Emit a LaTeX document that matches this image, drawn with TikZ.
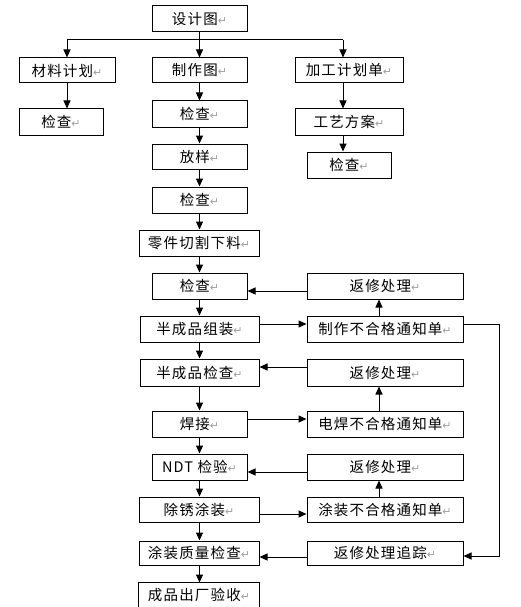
\documentclass[tikz,border=0pt]{standalone}
\usepackage{fontspec}
\usetikzlibrary{arrows.meta}
\newfontfamily\cjk[LetterSpace=8]{Noto Sans CJK SC}
\newfontfamily\symf{DejaVu Sans}
\definecolor{retgray}{HTML}{A0A0A0}
\newcommand{\retmark}{{\symf\fontsize{11}{12}\selectfont\color{retgray}↵}}
\tikzset{
  box/.style={draw=black, line width=1pt, rectangle, inner sep=0pt, fill=white,
    font=\cjk\fontsize{14.5}{15}\selectfont},
  arr/.style={line width=1pt, -{Triangle[length=8pt,width=7pt]}},
  ln/.style={line width=1pt}
}
\begin{document}
\begin{tikzpicture}[x=1pt,y=-1pt]
\useasboundingbox (0,0) rectangle (520,607);
\clip (0,0) rectangle (520,607);
\fill[white] (0,0) rectangle (520,607);
% named columns
\coordinate (colL) at (67,0);
\coordinate (colM) at (199.5,0);
\coordinate (colR) at (343,0);
\coordinate (colU) at (379,0);
\coordinate (colE) at (499,0);
\coordinate (split) at (199.5,40);
% nodes
\node[box, minimum width=95pt, minimum height=26pt] (sj) at (199.5,19) {设计图\retmark};
\node[box, minimum width=96pt, minimum height=25pt] (cl) at (67,70.5) {材料计划\retmark};
\node[box, minimum width=95pt, minimum height=25pt] (zz) at (199.5,70.5) {制作图\retmark};
\node[box, minimum width=108pt, minimum height=25pt] (jg) at (349,70.5) {加工计划单\retmark};
\node[box, minimum width=84pt, minimum height=26pt] (jc1) at (61,122) {检查\retmark};
\node[box, minimum width=95pt, minimum height=26pt] (jc2) at (199.5,114) {检查\retmark};
\node[box, minimum width=108pt, minimum height=26pt] (gy) at (349,122) {工艺方案\retmark};
\node[box, minimum width=84pt, minimum height=26pt] (jc3) at (349,165) {检查\retmark};
\node[box, minimum width=95pt, minimum height=25pt] (fy) at (199.5,156.5) {放样\retmark};
\node[box, minimum width=95pt, minimum height=26pt] (jc4) at (199.5,200) {检查\retmark};
\node[box, minimum width=120pt, minimum height=26pt] (lj) at (199,243) {零件切割下料\retmark};
\node[box, minimum width=95pt, minimum height=26pt] (jc5) at (199.5,286) {检查\retmark};
\node[box, minimum width=156pt, minimum height=26pt] (fx1) at (385,286) {返修处理\retmark};
\node[box, minimum width=119pt, minimum height=26pt] (bz) at (199.5,329) {半成品组装\retmark};
\node[box, minimum width=156pt, minimum height=26pt] (zb) at (385,329) {制作不合格通知单\retmark};
\node[box, minimum width=119pt, minimum height=27pt] (bj) at (199.5,372.5) {半成品检查\retmark};
\node[box, minimum width=156pt, minimum height=27pt] (fx2) at (385,372.5) {返修处理\retmark};
\node[box, minimum width=95pt, minimum height=26pt] (hj) at (199.5,424) {焊接\retmark};
\node[box, minimum width=156pt, minimum height=26pt] (db) at (385,424) {电焊不合格通知单\retmark};
\node[box, minimum width=95pt, minimum height=26pt] (ndt) at (199.5,467) {NDT 检验\retmark};
\node[box, minimum width=156pt, minimum height=26pt] (fx3) at (385,467) {返修处理\retmark};
\node[box, minimum width=120pt, minimum height=25pt] (cx) at (199,509.5) {除锈涂装\retmark};
\node[box, minimum width=156pt, minimum height=25pt] (tb) at (385,509.5) {涂装不合格通知单\retmark};
\node[box, minimum width=120pt, minimum height=24pt] (tj) at (199,553) {涂装质量检查\retmark};
\node[box, minimum width=156pt, minimum height=24pt] (fz) at (385,553) {返修处理追踪\retmark};
\node[box, draw=none, minimum width=120pt, minimum height=24pt] (cp) at (199,595) {成品出厂验收\retmark};
\draw[ln] ([yshift=-30pt]cp.south west) |- (cp.north east) -- ([yshift=-30pt]cp.south east);
% top split
\draw[ln] (sj.south) -- (split);
\draw[ln] (split -| colL) -- (split -| colR);
\draw[arr] (split -| colL) -- (cl.north -| colL);
\draw[arr] (split) -- (zz.north);
\draw[arr] (split -| colR) -- (jg.north -| colR);
% left column
\draw[arr] (cl.south -| colL) -- (jc1.north -| colL);
% right column
\draw[arr] (jg.south -| colR) -- (gy.north -| colR);
\draw[arr] (gy.south -| colR) -- (jc3.north -| colR);
% main column
\draw[arr] (zz.south) -- (jc2.north);
\draw[arr] (jc2.south) -- (fy.north);
\draw[arr] (fy.south) -- (jc4.north);
\draw[arr] (jc4.south) -- (lj.north -| colM);
\draw[arr] (lj.south -| colM) -- (jc5.north);
\draw[arr] (jc5.south) -- (bz.north);
\draw[arr] (bz.south) -- (bj.north);
\draw[arr] (bj.south) -- (hj.north);
\draw[arr] (hj.south) -- (ndt.north);
\draw[arr] (ndt.south) -- (cx.north -| colM);
\draw[arr] (cx.south -| colM) -- (tj.north -| colM);
\draw[arr] (tj.south -| colM) -- (cp.north -| colM);
% horizontal feedback
\coordinate (y1) at (0,291);
\coordinate (y2) at (0,324);
\coordinate (y3) at (0,367);
\coordinate (y4) at (0,419);
\coordinate (y5) at (0,472);
\coordinate (y6) at (0,514);
\coordinate (y7) at (0,557);
\coordinate (y8) at (0,556);
\draw[arr] (fx1.west |- y1) -- (jc5.east |- y1);
\draw[arr] (bz.east |- y2) -- (zb.west |- y2);
\draw[arr] (zb.north -| colU) -- (fx1.south -| colU);
\draw[arr] (fx2.west |- y3) -- (bj.east |- y3);
\draw[arr] (hj.east |- y4) -- (db.west |- y4);
\draw[arr] (db.north -| colU) -- (fx2.south -| colU);
\draw[arr] (fx3.west |- y5) -- (ndt.east |- y5);
\draw[arr] (cx.east |- y6) -- (tb.west |- y6);
\draw[arr] (tb.north -| colU) -- (fx3.south -| colU);
\draw[arr] (fz.west |- y7) -- (tj.east |- y7);
\draw[arr] (zb.east |- y2) -- (colE |- y2) -- (colE |- y8) -- (fz.east |- y8);
\end{tikzpicture}
\end{document}
